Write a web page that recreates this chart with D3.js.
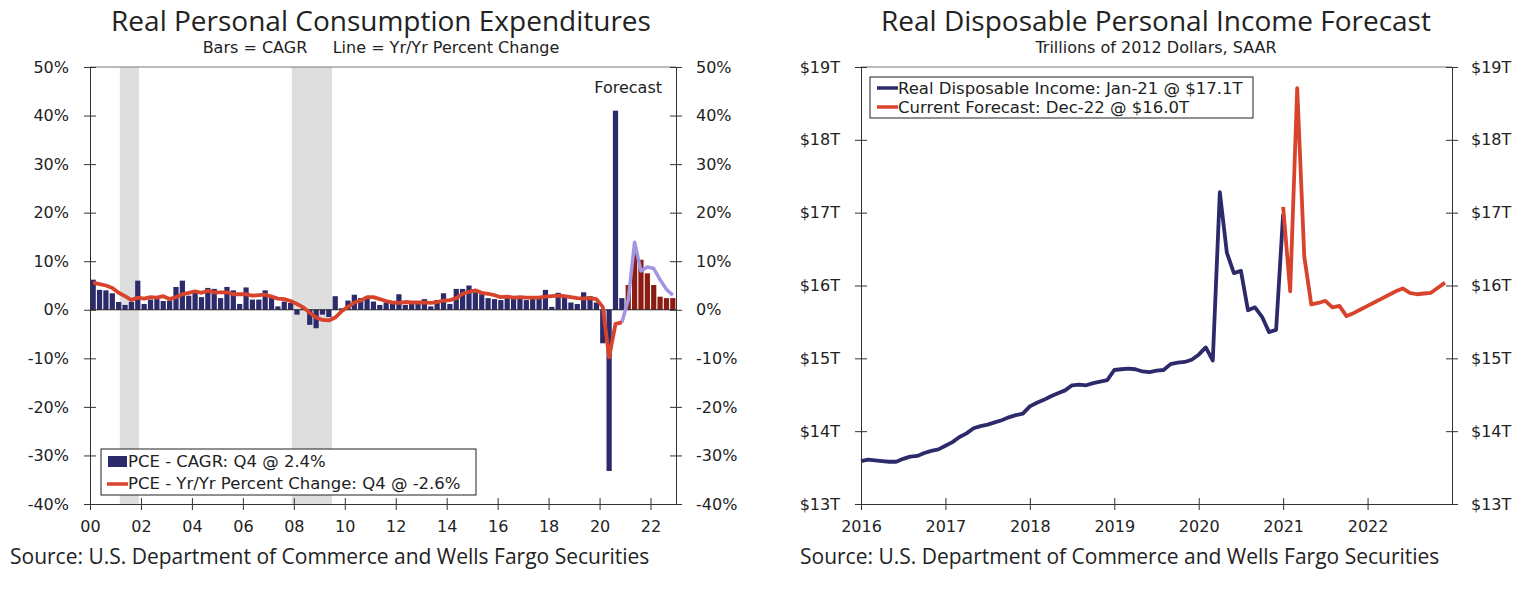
<!DOCTYPE html>
<html lang="en">
  <head>
    <meta charset="utf-8">
    <title>PCE and Disposable Income</title>
    <script src="https://d3js.org/d3.v7.js"></script>
    <style>
      body { margin: 0; background: #fff; }
      text { fill: #222; }
    </style>
  </head>

  <body>

  <script>

// ---- data: left chart (quarterly, 2000Q1 - 2022Q4) ----

  var firstYear = 2000;

  // real PCE, compound annual growth rate (%), actuals 2000Q1 - 2020Q4
  var pceCagr = [
    6.2, 4.1, 4.0, 3.4,   1.6, 1.0, 1.6, 6.0,   1.2, 2.1, 2.2, 1.8,
    1.9, 4.7, 6.0, 2.9,   3.6, 2.6, 4.5, 4.3,   2.4, 4.7, 4.0, 1.2,
    4.6, 2.1, 2.1, 4.0,   2.7, 0.7, 1.7, 1.4,  -1.0, 0.3, -3.1, -3.8,
   -1.0, -1.5, 2.8, 0.3,  1.9, 3.1, 2.4, 2.7,   1.7, 1.0, 1.5, 1.2,
    3.2, 1.0, 1.2, 1.8,   2.2, 0.7, 2.0, 3.4,   1.2, 4.3, 4.3, 5.0,
    3.6, 3.2, 2.4, 2.2,   2.0, 3.0, 2.5, 2.3,   2.0, 2.7, 2.3, 4.1,
    0.6, 3.5, 3.0, 1.5,   1.2, 3.6, 2.8, 1.5,  -6.9, -33.2, 41.0, 2.4
  ];

  // forecast CAGR, 2021Q1 - 2022Q4
  var pceCagrForecast = [5.1, 11.6, 10.3, 7.5, 5.1, 2.7, 2.4, 2.4];

  // yr/yr percent change, 2000Q1 - 2020Q4
  var pceYoy = [
    5.6, 5.3, 5.0, 4.5,   3.5, 2.8, 2.0, 2.5,   2.3, 2.6, 2.5, 2.8,
    2.2, 2.6, 3.2, 3.5,   3.8, 3.5, 3.9, 3.6,   3.6, 3.6, 3.2, 3.2,
    3.2, 2.9, 3.0, 3.1,   2.7, 2.3, 2.2, 1.8,   1.2, 0.5, -0.6, -1.6,
   -2.1, -2.2, -1.6, -0.3, 0.6, 1.5, 1.9, 2.6,  2.6, 2.2, 1.8, 1.5,
    1.4, 1.6, 1.5, 1.5,   1.5, 1.4, 1.6, 1.9,   2.0, 2.4, 3.3, 3.7,
    4.0, 3.5, 3.3, 3.0,   2.6, 2.7, 2.5, 2.6,   2.5, 2.5, 2.5, 2.7,
    2.8, 2.9, 2.8, 2.6,   2.4, 2.3, 2.4, 2.2,   0.6, -9.8, -2.9, -2.6
  ];

  // forecast yr/yr, 2020Q4 - 2022Q4
  var pceYoyForecast = [-2.6, 2.0, 13.9, 8.0, 8.8, 8.5, 6.2, 4.2, 3.0];

  var recessions = [[2001.17, 2001.92], [2007.92, 2009.5]];

  var leftTicks = [50, 40, 30, 20, 10, 0, -10, -20, -30, -40];
  var leftYearTicks = d3.range(2000, 2023, 2);

// ---- data: right chart (monthly, Jan 2016 - ) ----

  var incomeStart = 2016;
  // real disposable income ($T), Jan 2016 - Jan 2021
  var income = [
    13.59, 13.61, 13.60, 13.59, 13.58, 13.58, 13.62, 13.65, 13.66, 13.70, 13.73, 13.75,
    13.80, 13.85, 13.92, 13.97, 14.04, 14.07, 14.09, 14.12, 14.15, 14.19, 14.22, 14.24,
    14.34, 14.39, 14.43, 14.48, 14.52, 14.56, 14.63, 14.64, 14.63, 14.66, 14.68, 14.70,
    14.84, 14.85, 14.86, 14.85, 14.82, 14.81, 14.83, 14.84, 14.92, 14.94, 14.95, 14.98,
    15.05, 15.15, 14.97, 17.28, 16.45, 16.17, 16.20, 15.66, 15.70, 15.57, 15.36, 15.39,
    16.98
  ];
  // current forecast ($T), Jan 2021 - Dec 2022
  var forecastStartIndex = 60;
  var incomeForecast = [
    17.08, 15.92, 18.71, 16.40, 15.74, 15.76, 15.79, 15.70, 15.72, 15.58, 15.62, 15.67,
    15.72, 15.77, 15.82, 15.87, 15.92, 15.96, 15.90, 15.88, 15.89, 15.90, 15.97, 16.04
  ];

  var rightTicks = [13, 14, 15, 16, 17, 18, 19];
  var rightYearTicks = d3.range(2016, 2023);

// ---- colours ----

  var navy = "#2d2a6b";
  var red = "#d8432c";
  var darkRed = "#8c1c12";
  var lavender = "#a295e2";
  var grey = "#dedede";
  var tickFont = "DejaVu Sans";
  var titleFont = "Open Sans";

  var svg = d3.select("body")
    .append("svg")
      .attr("width", 1536)
      .attr("height", 595);

// ================= left chart =================

  var L = {left: 90, right: 676, top: 67, bottom: 504};

  var xL = d3.scaleLinear()
      .domain([2000, 2023])
      .range([L.left, L.right]);

  var yL = d3.scaleLinear()
      .domain([-40, 50])
      .range([L.bottom, L.top]);

  var gL = svg.append("g");

  gL.selectAll("rect.rec")
      .data(recessions)
      .enter().append("rect")
      .attr("class", "rec")
      .attr("x", d => xL(d[0]))
      .attr("y", L.top)
      .attr("width", d => xL(d[1]) - xL(d[0]))
      .attr("height", L.bottom - L.top)
      .attr("fill", grey);

  var qx = i => xL(firstYear + (i + 0.5) / 4);
  var barW = (xL(2001) - xL(2000)) / 4 * 0.82;

  gL.selectAll("rect.bar")
      .data(pceCagr)
      .enter().append("rect")
      .attr("class", "bar")
      .attr("x", (d, i) => qx(i) - barW / 2)
      .attr("y", d => yL(Math.max(0, d)))
      .attr("width", barW)
      .attr("height", d => Math.abs(yL(d) - yL(0)))
      .attr("fill", navy);

  gL.selectAll("rect.fbar")
      .data(pceCagrForecast)
      .enter().append("rect")
      .attr("class", "fbar")
      .attr("x", (d, i) => qx(i + pceCagr.length) - barW / 2)
      .attr("y", d => yL(Math.max(0, d)))
      .attr("width", barW)
      .attr("height", d => Math.abs(yL(d) - yL(0)))
      .attr("fill", darkRed);

  // zero line
  gL.append("line")
      .attr("x1", L.left).attr("x2", L.right)
      .attr("y1", yL(0)).attr("y2", yL(0))
      .attr("stroke", "#222").attr("stroke-width", 1);

  var lineL = d3.line()
      .x(d => qx(d[0]))
      .y(d => yL(d[1]));

  gL.append("path")
      .datum(pceYoyForecast.map((d, i) => [i + pceYoy.length - 1, d]))
      .attr("d", lineL)
      .attr("fill", "none")
      .attr("stroke", lavender)
      .attr("stroke-width", 3.5)
      .attr("stroke-linejoin", "round");

  gL.append("path")
      .datum(pceYoy.map((d, i) => [i, d]))
      .attr("d", lineL)
      .attr("fill", "none")
      .attr("stroke", red)
      .attr("stroke-width", 3.8)
      .attr("stroke-linejoin", "round");

  // frame
  gL.append("line")
      .attr("x1", L.left).attr("x2", L.right)
      .attr("y1", L.top).attr("y2", L.top)
      .attr("stroke", "#777");

  var axisStyle = function(g) {
    g.select(".domain").attr("stroke", "#333");
    g.selectAll(".tick line").attr("stroke", "#333");
    g.selectAll(".tick text")
      .attr("font-family", tickFont)
      .attr("font-size", 16)
      .attr("fill", "#333");
  };

  gL.append("g")
      .attr("transform", `translate(${L.left},0)`)
      .call(d3.axisLeft(yL).tickValues(leftTicks).tickFormat(d => d + "%")
        .tickSizeInner(6).tickSizeOuter(0).tickPadding(15))
      .call(axisStyle)
      .call(g => g.selectAll(".tick line").attr("x1", 6).attr("x2", -6));

  gL.append("g")
      .attr("transform", `translate(${L.right},0)`)
      .call(d3.axisRight(yL).tickValues(leftTicks).tickFormat(d => d + "%")
        .tickSizeInner(6).tickSizeOuter(0).tickPadding(14))
      .call(axisStyle)
      .call(g => g.selectAll(".tick line").attr("x1", -6).attr("x2", 6));

  gL.append("g")
      .attr("transform", `translate(0,${L.bottom})`)
      .call(d3.axisBottom(xL).tickValues(leftYearTicks)
        .tickFormat(d => d3.format("02")(d % 100))
        .tickSizeInner(6).tickSizeOuter(0).tickPadding(11))
      .call(axisStyle)
      .call(g => g.selectAll(".tick line").attr("y1", -6).attr("y2", 6));

  gL.append("text")
      .attr("x", 662).attr("y", 93)
      .attr("text-anchor", "end")
      .attr("font-family", tickFont).attr("font-size", 16)
      .text("Forecast");

  // legend
  var legL = gL.append("g");
  legL.append("rect")
      .attr("x", 101).attr("y", 449).attr("width", 375).attr("height", 46)
      .attr("fill", "#fff").attr("stroke", "#222");
  legL.append("rect")
      .attr("x", 108).attr("y", 456).attr("width", 19).attr("height", 11)
      .attr("fill", navy);
  legL.append("line")
      .attr("x1", 107).attr("x2", 128).attr("y1", 484).attr("y2", 484)
      .attr("stroke", red).attr("stroke-width", 3.5);
  legL.selectAll("text")
      .data(["PCE - CAGR: Q4 @ 2.4%", "PCE - Yr/Yr Percent Change: Q4 @ -2.6%"])
      .enter().append("text")
      .attr("x", 128)
      .attr("y", (d, i) => 467 + i * 22)
      .attr("font-family", tickFont).attr("font-size", 16.5)
      .text(d => d);

  gL.append("text")
      .attr("x", 381).attr("y", 31)
      .attr("text-anchor", "middle")
      .attr("font-family", titleFont).attr("font-size", 28)
      .text("Real Personal Consumption Expenditures");

  gL.append("text")
      .attr("x", 381).attr("y", 53)
      .attr("text-anchor", "middle")
      .attr("font-family", tickFont).attr("font-size", 16)
      .attr("xml:space", "preserve")
      .text("Bars = CAGR     Line = Yr/Yr Percent Change");

  gL.append("text")
      .attr("x", 10).attr("y", 564)
      .attr("font-family", titleFont).attr("font-size", 21)
      .text("Source: U.S. Department of Commerce and Wells Fargo Securities");

// ================= right chart =================

  var R = {left: 861, right: 1452, top: 67, bottom: 504};

  var xR = d3.scaleLinear()
      .domain([2016, 2023])
      .range([R.left, R.right]);

  var yR = d3.scaleLinear()
      .domain([13, 19])
      .range([R.bottom, R.top]);

  var gR = svg.append("g");

  var mx = i => xR(incomeStart + i / 12);

  var lineR = d3.line()
      .x(d => mx(d[0]))
      .y(d => yR(d[1]));

  gR.append("path")
      .datum(income.map((d, i) => [i, d]))
      .attr("d", lineR)
      .attr("fill", "none")
      .attr("stroke", navy)
      .attr("stroke-width", 3.8)
      .attr("stroke-linejoin", "round");

  gR.append("path")
      .datum(incomeForecast.map((d, i) => [i + forecastStartIndex, d]))
      .attr("d", lineR)
      .attr("fill", "none")
      .attr("stroke", red)
      .attr("stroke-width", 3.8)
      .attr("stroke-linejoin", "round");

  gR.append("line")
      .attr("x1", R.left).attr("x2", R.right)
      .attr("y1", R.top).attr("y2", R.top)
      .attr("stroke", "#777");

  var fmtT = d => "$" + d + "T";

  gR.append("g")
      .attr("transform", `translate(${R.left},0)`)
      .call(d3.axisLeft(yR).tickValues(rightTicks).tickFormat(fmtT)
        .tickSizeInner(6).tickSizeOuter(0).tickPadding(15))
      .call(axisStyle)
      .call(g => g.selectAll(".tick line").attr("x1", 6).attr("x2", -6));

  gR.append("g")
      .attr("transform", `translate(${R.right},0)`)
      .call(d3.axisRight(yR).tickValues(rightTicks).tickFormat(fmtT)
        .tickSizeInner(6).tickSizeOuter(0).tickPadding(13))
      .call(axisStyle)
      .call(g => g.selectAll(".tick line").attr("x1", -6).attr("x2", 6));

  gR.append("g")
      .attr("transform", `translate(0,${R.bottom})`)
      .call(d3.axisBottom(xR).tickValues(rightYearTicks).tickFormat(d3.format("d"))
        .tickSizeInner(6).tickSizeOuter(0).tickPadding(11))
      .call(axisStyle)
      .call(g => g.selectAll(".tick line").attr("y1", -6).attr("y2", 6));

  var legR = gR.append("g");
  legR.append("rect")
      .attr("x", 870).attr("y", 77).attr("width", 383).attr("height", 41)
      .attr("fill", "#fff").attr("stroke", "#222");
  legR.selectAll("line")
      .data([navy, red])
      .enter().append("line")
      .attr("x1", 877).attr("x2", 898)
      .attr("y1", (d, i) => 88 + i * 19).attr("y2", (d, i) => 88 + i * 19)
      .attr("stroke", d => d).attr("stroke-width", 3.5);
  legR.selectAll("text")
      .data(["Real Disposable Income: Jan-21 @ $17.1T", "Current Forecast: Dec-22 @ $16.0T"])
      .enter().append("text")
      .attr("x", 898)
      .attr("y", (d, i) => 94 + i * 19)
      .attr("font-family", tickFont).attr("font-size", 16.5)
      .text(d => d);

  gR.append("text")
      .attr("x", 1156).attr("y", 31)
      .attr("text-anchor", "middle")
      .attr("font-family", titleFont).attr("font-size", 28)
      .text("Real Disposable Personal Income Forecast");

  gR.append("text")
      .attr("x", 1156).attr("y", 53)
      .attr("text-anchor", "middle")
      .attr("font-family", tickFont).attr("font-size", 16)
      .text("Trillions of 2012 Dollars, SAAR");

  gR.append("text")
      .attr("x", 800).attr("y", 564)
      .attr("font-family", titleFont).attr("font-size", 21)
      .text("Source: U.S. Department of Commerce and Wells Fargo Securities");

    </script>

  </body>

</html>
